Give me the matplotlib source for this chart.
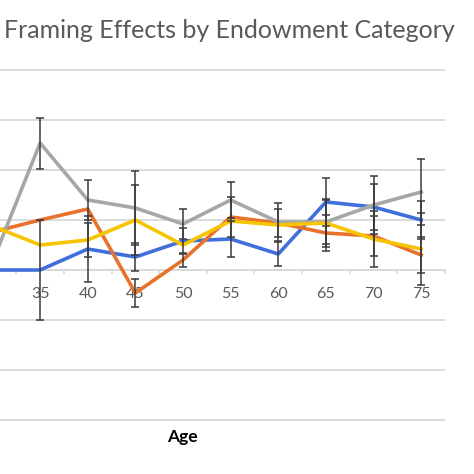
import matplotlib.pyplot as plt
import numpy as np

# 数据：年龄分组与四个类别的取值
ages = [30, 35, 40, 45, 50, 55, 60, 65, 70, 75]
blue_vals = [0.0, 0.0, 0.042, 0.026, 0.058, 0.062, 0.032, 0.136, 0.126, 0.10]
orange_vals = [0.076, 0.10, 0.122, -0.046, 0.02, 0.106, 0.094, 0.074, 0.068, 0.03]
grey_vals = [0.016, 0.254, 0.14, 0.124, 0.092, 0.14, 0.096, 0.096, 0.13, 0.156]
yellow_vals = [0.088, 0.05, 0.06, 0.10, 0.05, 0.098, 0.09, 0.094, 0.062, 0.042]

# 误差（0 表示无误差线）
blue_err = [0, 0.10, 0.066, 0.028, 0.026, 0.036, 0.024, 0.048, 0.046, 0.038]
orange_err = [0, 0, 0, 0.028, 0.014, 0.04, 0.028, 0.036, 0.04, 0.036]
grey_err = [0, 0.051, 0.04, 0.074, 0.03, 0.036, 0.038, 0.044, 0.058, 0.066]
yellow_err = [0, 0, 0.034, 0.07, 0, 0, 0, 0.048, 0.056, 0.072]

grid_vals = [-0.3, -0.2, -0.1, 0.0, 0.1, 0.2, 0.3, 0.4]

series = [
    (blue_vals, blue_err, '#3F6FDC'),
    (orange_vals, orange_err, '#E8722C'),
    (grey_vals, grey_err, '#A5A8A6'),
    (yellow_vals, yellow_err, '#F7C400'),
]

plt.rcParams['font.family'] = ['Lato', 'DejaVu Sans']

W = 474
fig = plt.figure(figsize=(W / 100, W / 100), dpi=100)
ax = fig.add_axes([0, 1 - 424 / W, 445 / W, 358 / W])
ax.set_xlim(30.79, 77.5)
ax.set_ylim(-0.308, 0.408)

x = np.array(ages)
for vals, err, color in series:
    ax.plot(x, vals, color=color, lw=2.6, zorder=3, solid_joinstyle='round')
for vals, err, color in series:
    v = np.array(vals)
    e = np.array(err)
    m = e > 0
    ax.errorbar(x[m], v[m], yerr=e[m], fmt='none', ecolor='#3a3a3a',
                elinewidth=1.1, capsize=3, capthick=1.1, zorder=4)

# 网格线
ax.set_yticks(grid_vals)
ax.yaxis.grid(True, color='#d9d9d9', lw=1.3)
ax.set_axisbelow(True)
ax.tick_params(axis='y', length=0, labelleft=False)

for s in ['left', 'right', 'top']:
    ax.spines[s].set_visible(False)
ax.spines['bottom'].set_position(('data', 0))
ax.spines['bottom'].set_color('#d9d9d9')
ax.spines['bottom'].set_linewidth(1.3)
ax.spines['bottom'].set_zorder(1.5)

ax.set_xticks(ages[1:])
ax.set_xticklabels([str(a) for a in ages[1:]])
ax.set_xticks(x + 2.5, minor=True)
ax.tick_params(axis='x', which='major', length=0, pad=12.5, labelsize=11.5,
               labelcolor='#595959')
ax.tick_params(axis='x', which='minor', length=3, width=1.2, color='#d9d9d9')

fig.text(229 / W, 1 - 31 / W, 'Framing Effects by Endowment Category',
         ha='center', va='center', fontsize=18, color='#595959')
fig.text(182 / W, 1 - 437 / W, 'Age', ha='center', va='center',
         fontsize=12.5, fontweight='bold', color='black')

fig.savefig('out.png', dpi=100)
